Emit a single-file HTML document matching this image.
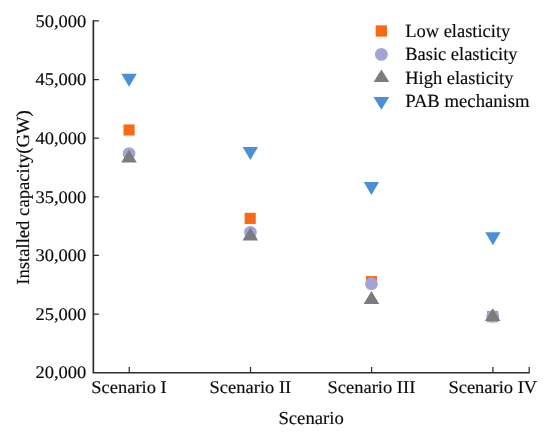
<!DOCTYPE html>
<html><head><meta charset="utf-8">
<style>
html,body{margin:0;padding:0;background:#fff;}
svg{display:block;}
text{font-family:"Liberation Serif","Times New Roman",serif;font-size:17.8px;fill:#0a0a0a;stroke:#0a0a0a;stroke-width:0.15px;text-rendering:geometricPrecision;}
</style></head><body>
<svg width="550" height="436" viewBox="0 0 550 436">
<rect width="550" height="436" fill="#fff"/>
<g stroke="#2e2e2e" fill="none">
<path stroke-width="1.7" d="M93.35 20.3V372.75H529.8"/>
<path stroke-width="1.25" d="M93.3 20.95H98.9M93.3 79.58H98.9M93.3 138.21H98.9M93.3 196.84H98.9M93.3 255.47H98.9M93.3 314.10H98.9"/>
<path stroke-width="1.25" d="M129.25 372.4V366.9M250.5 372.4V366.9M371.6 372.4V366.9M492.9 372.4V366.9M529.2 372.4V366.9"/>
</g>
<g>
<text transform="translate(86.3 26.6) scale(1.04 1)" text-anchor="end" style="font-size:17.8px">50,000</text>
<text transform="translate(86.3 85.2) scale(1.04 1)" text-anchor="end" style="font-size:17.8px">45,000</text>
<text transform="translate(86.3 143.9) scale(1.04 1)" text-anchor="end" style="font-size:17.8px">40,000</text>
<text transform="translate(86.3 202.5) scale(1.04 1)" text-anchor="end" style="font-size:17.8px">35,000</text>
<text transform="translate(86.3 261.1) scale(1.04 1)" text-anchor="end" style="font-size:17.8px">30,000</text>
<text transform="translate(86.3 319.8) scale(1.04 1)" text-anchor="end" style="font-size:17.8px">25,000</text>
<text transform="translate(86.3 378.4) scale(1.04 1)" text-anchor="end" style="font-size:17.8px">20,000</text>
</g>
<g>
<text transform="translate(129.0 392.8) scale(1.04 1)" text-anchor="middle" style="font-size:17.8px">Scenario I</text>
<text transform="translate(250.4 392.8) scale(1.04 1)" text-anchor="middle" style="font-size:17.8px">Scenario II</text>
<text transform="translate(371.4 392.8) scale(1.04 1)" text-anchor="middle" style="font-size:17.8px">Scenario III</text>
<text transform="translate(492.8 392.8) scale(1.04 1)" text-anchor="middle" style="font-size:17.8px">Scenario IV</text>
<text transform="translate(311.1 423.8) scale(1.02 1)" text-anchor="middle" style="font-size:18.3px">Scenario</text>
<text transform="translate(29.1 197.5) rotate(-90) scale(1.015 1)" text-anchor="middle" style="font-size:18.4px">Installed capacity(GW)</text>
</g>
<g>
<text transform="translate(405.2 37.0) scale(0.993 1)" text-anchor="start" style="font-size:18.6px">Low elasticity</text>
<text transform="translate(405.2 60.3) scale(0.993 1)" text-anchor="start" style="font-size:18.6px">Basic elasticity</text>
<text transform="translate(405.2 83.7) scale(0.993 1)" text-anchor="start" style="font-size:18.6px">High elasticity</text>
<text transform="translate(405.2 107.15) scale(1.005 1)" text-anchor="start" style="font-size:18.6px">PAB mechanism</text>
</g>
<g>
<rect x="123.50" y="124.45" width="11.1" height="11.1" fill="#FA6A16"/>
<circle cx="129.1" cy="153.6" r="6.35" fill="#A0A5D6"/>
<path d="M129.00 149.70L136.80 162.60H121.20Z" fill="#7C7C7C"/>
<path d="M121.35 73.80H136.75L129.05 86.80Z" fill="#4990D8"/>
<rect x="244.65" y="212.85" width="11.1" height="11.1" fill="#FA6A16"/>
<circle cx="250.4" cy="232.3" r="6.35" fill="#A0A5D6"/>
<path d="M250.30 227.50L258.10 240.40H242.50Z" fill="#7C7C7C"/>
<path d="M242.65 146.90H258.05L250.35 159.90Z" fill="#4990D8"/>
<rect x="365.95" y="276.05" width="11.1" height="11.1" fill="#FA6A16"/>
<circle cx="371.4" cy="283.7" r="6.35" fill="#A0A5D6"/>
<path d="M371.45 291.00L379.25 303.90H363.65Z" fill="#7C7C7C"/>
<path d="M363.70 182.00H379.10L371.40 195.00Z" fill="#4990D8"/>
<rect x="487.10" y="311.05" width="11.1" height="11.1" fill="#FA6A16"/>
<circle cx="492.7" cy="316.4" r="6.35" fill="#A0A5D6"/>
<path d="M492.70 308.20L500.50 321.10H484.90Z" fill="#7C7C7C"/>
<path d="M485.20 232.30H500.60L492.90 245.30Z" fill="#4990D8"/>
<rect x="375.70" y="25.35" width="11.3" height="11.3" fill="#FA6A16"/>
<circle cx="381.35" cy="54.4" r="6.4" fill="#A0A5D6"/>
<path d="M381.40 69.60L389.25 82.00H373.55Z" fill="#7C7C7C"/>
<path d="M373.55 97.10H389.25L381.40 109.70Z" fill="#4990D8"/>
</g>
</svg>
</body></html>
